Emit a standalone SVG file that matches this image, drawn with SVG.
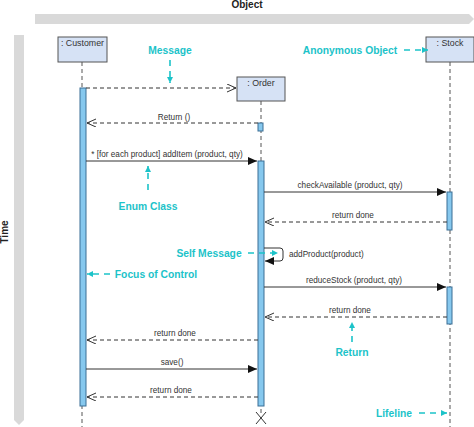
<svg xmlns="http://www.w3.org/2000/svg" width="474" height="427" viewBox="0 0 474 427">
<style>
.obj{fill:#d6e2f5;stroke:#555;stroke-width:1}
.ot{font-family:"Liberation Sans",Arial,sans-serif;font-size:8.8px;fill:#333;text-anchor:middle}
.life{stroke:#555;stroke-width:1;stroke-dasharray:4,3;fill:none}
.act{fill:#86c8ee;stroke:#3b6f95;stroke-width:1}
.msg{stroke:#333;stroke-width:1;fill:none}
.ret{stroke:#333;stroke-width:1;fill:none;stroke-dasharray:4,3}
.ml{font-family:"Liberation Sans",Arial,sans-serif;font-size:8.2px;fill:#333;text-anchor:middle}
.an{font-family:"Liberation Sans",Arial,sans-serif;font-size:10.3px;font-weight:bold;fill:#1cc3c9}
.al{stroke:#1cc3c9;stroke-width:1.6;stroke-dasharray:6,5;fill:none}
.bar{fill:#d9d9d9}
.axis{font-family:"Liberation Sans",Arial,sans-serif;font-size:10px;font-weight:bold;fill:#222;text-anchor:middle}
</style>
<defs>
<marker id="fill" markerWidth="10" markerHeight="10" refX="9" refY="4" orient="auto" markerUnits="userSpaceOnUse"><path d="M0,0 L9,4 L0,8 Z" fill="#111"/></marker>
<marker id="open" markerWidth="10" markerHeight="10" refX="9" refY="4" orient="auto" markerUnits="userSpaceOnUse"><path d="M0,0 L9,4 L0,8" fill="none" stroke="#333" stroke-width="1"/></marker>
<marker id="teal" markerWidth="8" markerHeight="8" refX="6" refY="3" orient="auto" markerUnits="userSpaceOnUse"><path d="M0,0 L6,3 L0,6 Z" fill="#1cc3c9"/></marker>
</defs>
<rect width="474" height="427" fill="#fff"/>
<g id="axes">
<polygon class="bar" points="35,14 469,14 474,19 469,24 35,24"/>
<text class="axis" x="247" y="8">Object</text>
<polygon class="bar" points="14,35 24,35 24,420 19,425 14,420"/>
<text class="axis" transform="translate(8,232) rotate(-90)">Time</text>
</g>
<g id="lifelines">
<line class="life" x1="82" y1="62" x2="82" y2="427"/>
<line class="life" x1="261" y1="101" x2="261" y2="416"/>
<line class="life" x1="450" y1="62" x2="450" y2="427"/>
</g>
<g id="customer">
<rect class="obj" x="58" y="37" width="49" height="25"/>
<text class="ot" x="82.5" y="46">: Customer</text>
<rect class="act" x="80" y="88" width="6" height="318"/>
</g>
<g id="order">
<rect class="obj" x="237" y="77" width="48" height="24"/>
<text class="ot" x="261" y="86">: Order</text>
<rect class="act" x="258" y="123" width="5" height="8"/>
<rect class="act" x="258" y="161" width="6" height="245"/>
<path d="M256,412 L266,424 M266,412 L256,424" stroke="#333" stroke-width="1"/>
</g>
<g id="stock">
<rect class="obj" x="426" y="37" width="48" height="25"/>
<text class="ot" x="450" y="46">: Stock</text>
<rect class="act" x="447" y="192" width="5" height="38"/>
<rect class="act" x="447" y="287" width="5" height="37"/>
</g>
<g id="connectors">
<line class="ret" x1="86" y1="88" x2="236" y2="88" marker-end="url(#open)"/>
<line class="ret" x1="258" y1="123" x2="87" y2="123" marker-end="url(#open)"/>
<text class="ml" x="174" y="120">Return ()</text>
<line class="msg" x1="86" y1="161" x2="257" y2="161" marker-end="url(#fill)"/>
<text class="ml" x="167" y="157">* [for each product] addItem (product, qty)</text>
<line class="msg" x1="264" y1="192" x2="446" y2="192" marker-end="url(#fill)"/>
<text class="ml" x="350" y="188">checkAvailable (product, qty)</text>
<line class="ret" x1="447" y1="222" x2="265" y2="222" marker-end="url(#open)"/>
<text class="ml" x="353" y="218">return done</text>
<path class="msg" d="M264,248 L280,248 Q283,248 283,251 L283,258 Q283,261 280,261 L265,261" marker-end="url(#fill)"/>
<text class="ml" x="289" y="257" style="text-anchor:start">addProduct(product)</text>
<line class="msg" x1="264" y1="287" x2="446" y2="287" marker-end="url(#fill)"/>
<text class="ml" x="354" y="283">reduceStock (product, qty)</text>
<line class="ret" x1="447" y1="317" x2="265" y2="317" marker-end="url(#open)"/>
<text class="ml" x="350" y="313">return done</text>
<line class="ret" x1="258" y1="340" x2="87" y2="340" marker-end="url(#open)"/>
<text class="ml" x="175" y="336">return done</text>
<line class="msg" x1="86" y1="369" x2="257" y2="369" marker-end="url(#fill)"/>
<text class="ml" x="172" y="365">save()</text>
<line class="ret" x1="258" y1="397" x2="87" y2="397" marker-end="url(#open)"/>
<text class="ml" x="171" y="393">return done</text>
</g>
<g id="annotations">
<text class="an" x="170" y="54" text-anchor="middle">Message</text>
<line class="al" x1="170" y1="60" x2="170" y2="83" marker-end="url(#teal)"/>
<text class="an" x="350" y="54" text-anchor="middle">Anonymous Object</text>
<line class="al" x1="404" y1="50" x2="428" y2="50" marker-end="url(#teal)"/>
<text class="an" x="148" y="210" text-anchor="middle">Enum Class</text>
<line class="al" x1="148" y1="190" x2="148" y2="166" marker-end="url(#teal)"/>
<text class="an" x="209" y="257" text-anchor="middle">Self Message</text>
<line class="al" x1="248" y1="253" x2="278" y2="253" marker-end="url(#teal)"/>
<text class="an" x="156" y="278" text-anchor="middle">Focus of Control</text>
<line class="al" x1="110" y1="274" x2="87" y2="274" marker-end="url(#teal)"/>
<text class="an" x="352" y="356" text-anchor="middle">Return</text>
<line class="al" x1="352" y1="342" x2="352" y2="322" marker-end="url(#teal)"/>
<text class="an" x="394" y="417" text-anchor="middle">Lifeline</text>
<line class="al" x1="419" y1="413" x2="447" y2="413" marker-end="url(#teal)"/>
</g>
</svg>
